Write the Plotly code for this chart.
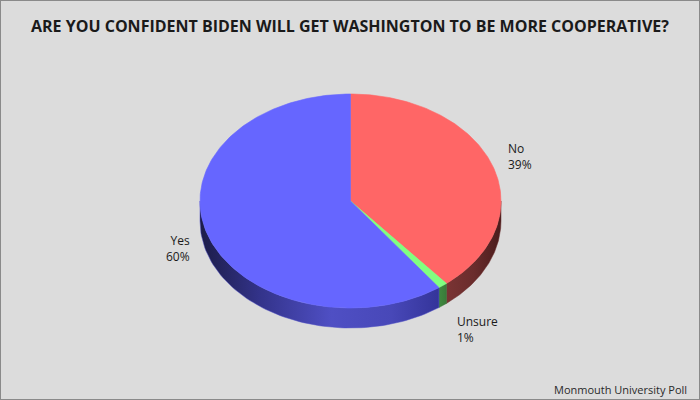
import numpy as np
import plotly.graph_objects as go

# ---- data ----
labels = ["No", "Unsure", "Yes"]
values = [39, 1, 60]
top_colors = ["#FF6666", "#80FF80", "#6666FF"]
side_scales = [
    [[0, "#7a3434"], [0.5, "#6a2c2c"], [1, "#4a1c1c"]],
    [[0, "#3f8a3f"], [1, "#3a7a3a"]],
    [[0, "#1c1c48"], [0.25, "#33338a"], [0.55, "#4f4fc4"], [0.8, "#4848b8"], [1, "#34349a"]],
]
title = "ARE YOU CONFIDENT BIDEN WILL GET WASHINGTON TO BE MORE COOPERATIVE?"
source = "Monmouth University Poll"

# ---- geometry (pixel coordinates) ----
W, H = 700, 400
cx, cy, rx, ry, depth = 350.5, 201, 150.5, 107, 20
label_offsets = [(14, -8), (12, 44), (-15, 14)]

def pt(theta_deg, yoff=0.0):
    t = np.radians(theta_deg)
    return cx + rx * np.sin(t), cy - ry * np.cos(t) + yoff

total = float(sum(values))
fracs = [v / total for v in values]
starts = np.concatenate([[0], np.cumsum(fracs)[:-1]]) * 360
ends = np.cumsum(fracs) * 360

fig = go.Figure()

# sides (visible front half: theta in [90, 270])
for i in range(len(values)):
    a0, a1 = max(starts[i], 90), min(ends[i], 270)
    if a1 <= a0:
        continue
    th = np.linspace(a0, a1, 80)
    xs_t, ys_t = pt(th)
    xs_b, ys_b = pt(th[::-1], depth)
    xs = np.concatenate([xs_t, xs_b, [xs_t[0]]])
    ys = np.concatenate([ys_t, ys_b, [ys_t[0]]])
    fig.add_trace(go.Scatter(
        x=xs, y=ys, mode="lines", fill="toself",
        line=dict(width=0.5, color=side_scales[i][len(side_scales[i]) // 2][1]),
        fillgradient=dict(type="horizontal", colorscale=side_scales[i]),
        hoverinfo="skip", showlegend=False))

# top faces
for i in range(len(values)):
    th = np.linspace(starts[i], ends[i], max(4, int(values[i] * 4)))
    xs, ys = pt(th)
    xs = np.concatenate([[cx], xs, [cx]])
    ys = np.concatenate([[cy], ys, [cy]])
    fig.add_trace(go.Scatter(
        x=xs, y=ys, mode="lines", fill="toself",
        line=dict(width=0.6, color=top_colors[i]), fillcolor=top_colors[i],
        name=labels[i], hoverinfo="name", showlegend=False))

# labels
annotations = []
for i in range(len(values)):
    mid = (starts[i] + ends[i]) / 2
    x, y = pt(mid)
    dx, dy = label_offsets[i]
    right = np.sin(np.radians(mid)) >= 0
    annotations.append(dict(
        x=x + dx, y=y + dy, xref="x", yref="y",
        text=f"{labels[i]}<br>{values[i]}%", showarrow=False,
        xanchor="left" if right else "right", yanchor="middle",
        align="left" if right else "right",
        font=dict(family="Open Sans, DejaVu Sans", size=12, color="#1a1a1a")))

annotations.append(dict(
    x=0.5, y=26, xref="paper", yref="y", text=f"<b>{title}</b>", showarrow=False,
    xanchor="center", yanchor="middle",
    font=dict(family="Open Sans, DejaVu Sans", size=16, color="#1a1a1a")))
annotations.append(dict(
    x=689, y=389, xref="x", yref="y", text=source, showarrow=False,
    xanchor="right", yanchor="middle",
    font=dict(family="Open Sans, DejaVu Sans", size=11, color="#2a2a2a")))

fig.update_layout(
    width=W, height=H, autosize=False,
    margin=dict(l=0, r=0, t=0, b=0),
    paper_bgcolor="#DCDCDC", plot_bgcolor="#DCDCDC",
    xaxis=dict(range=[0, W], visible=False, fixedrange=True),
    yaxis=dict(range=[H, 0], visible=False, fixedrange=True),
    annotations=annotations,
    shapes=[dict(type="rect", xref="paper", yref="paper", x0=0, y0=0, x1=1, y1=1,
                 line=dict(color="#8a8a8a", width=2))],
)

fig.write_html(
    "out.html", config={"displayModeBar": False},
    post_script="document.body.style.margin='0';document.body.style.overflow='hidden';")
